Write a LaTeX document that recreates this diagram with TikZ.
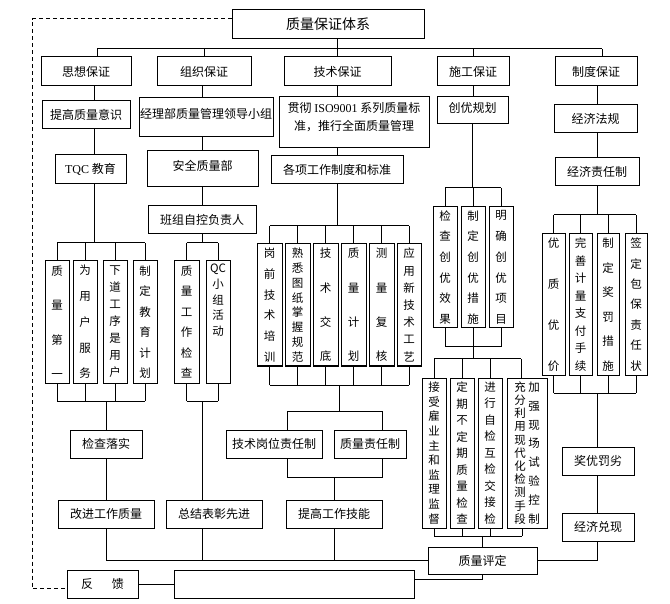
\documentclass[tikz,border=0pt]{standalone}
\usepackage{fontspec}
\setmainfont{Noto Sans CJK SC}
\newfontfamily\latinrm{Liberation Serif}
\usetikzlibrary{calc}
\newcommand{\latin}[1]{{\latinrm #1}}
\newcommand{\vstk}[2]{\begin{minipage}{12pt}\centering\fontsize{11.5}{#1}\selectfont #2\end{minipage}}
\newcommand{\liftup}[2]{\raisebox{#1}[\height][\depth]{#2}}
\tikzset{
  box/.style={draw=black, line width=1pt, inner sep=0pt,
              font=\fontsize{12}{14}\selectfont},
  sz/.style 2 args={minimum width=#1pt, minimum height=#2pt},
  link/.style={line width=1pt},
  fbline/.style={line width=1pt, dash pattern=on 4pt off 3pt}
}

\begin{document}
\begin{tikzpicture}[x=1pt,y=-1pt]
  \useasboundingbox (0,0) rectangle (670,604);
  % top level
  \node[box, sz={192}{29}, font=\fontsize{14}{16}\selectfont] (title) at (328,24.5) {质量保证体系};
  \node[box, sz={90}{29}] (sx) at (86,71.5) {思想保证};
  \node[box, sz={94}{29}] (zz) at (204,71.5) {组织保证};
  \node[box, sz={107}{29}] (js) at (337.5,71.5) {技术保证};
  \node[box, sz={72}{29}] (sg) at (473,71.5) {施工保证};
  \node[box, sz={82}{29}] (zd) at (596,71.5) {制度保证};
  % second level
  \node[box, sz={88}{28}] (tg) at (86,115) {提高质量意识};
  \node[box, sz={71}{29}] (tq) at (90.5,169.5) {\latin{TQC} 教育};
  \node[box, sz={134}{39}] (jl) at (206,117.5) {\liftup{3.5pt}{经理部质量管理领导小组}};
  \node[box, sz={111}{36}] (aq) at (202.5,169) {\liftup{3pt}{安全质量部}};
  \node[box, sz={108}{28}] (bz) at (202,220) {班组自控负责人};
  \node[box, sz={136}{51}] (iso) at (354,122.5) {\liftup{5.5pt}{\parbox{150pt}{\centering\fontsize{12}{18}\selectfont
    贯彻 \latin{ISO9001} 系列质量标\\准，推行全面质量管理}}};
  \node[box, sz={132}{28}] (gx) at (337,170) {各项工作制度和标准};
  \node[box, sz={71}{27}] (cy) at (472.5,110.5) {\liftup{2.5pt}{创优规划}};
  \node[box, sz={83}{28}] (jf) at (595.5,119) {经济法规};
  \node[box, sz={84}{28}] (jz) at (597,172) {经济责任制};
  % upright columns
  \node[box, sz={24}{122}] (a1) at (57,322) {\vstk{34.4}{质\\量\\第\\一}};
  \node[box, sz={24}{122}] (a2) at (85,322) {\vstk{25.8}{为\\用\\户\\服\\务}};
  \node[box, sz={24}{122}] (a3) at (115,322) {\vstk{17}{下\\道\\工\\序\\是\\用\\户}};
  \node[box, sz={24}{122}] (a4) at (145,322) {\vstk{20.5}{制\\定\\教\\育\\计\\划}};
  \node[box, sz={25}{122}] (b1) at (186.5,322) {\vstk{20.5}{质\\量\\工\\作\\检\\查}};
  \node[box, sz={24}{122}] (b2) at (218,322) {\liftup{21.6pt}{\begin{minipage}{16pt}\centering\fontsize{11.5}{15.7}\selectfont QC\\小\\组\\活\\动\end{minipage}}};
  \node[box, sz={25}{122}] (t1) at (269.5,305) {\vstk{20.7}{岗\\前\\技\\术\\培\\训}};
  \node[box, sz={25}{122}] (t2) at (297.5,305) {\vstk{14.8}{熟\\悉\\图\\纸\\掌\\握\\规\\范}};
  \node[box, sz={25}{122}] (t3) at (325.5,305) {\vstk{34.4}{技\\术\\交\\底}};
  \node[box, sz={25}{122}] (t4) at (353.5,305) {\vstk{34.4}{质\\量\\计\\划}};
  \node[box, sz={25}{122}] (t5) at (381.5,305) {\vstk{34.4}{测\\量\\复\\核}};
  \node[box, sz={24}{122}] (t6) at (409,305) {\vstk{17.2}{应\\用\\新\\技\\术\\工\\艺}};
  \node[box, sz={24}{121}] (c1) at (445,267.5) {\vstk{20.7}{检\\查\\创\\优\\效\\果}};
  \node[box, sz={24}{121}] (c2) at (473,267.5) {\vstk{20.7}{制\\定\\创\\优\\措\\施}};
  \node[box, sz={24}{121}] (c3) at (501,267.5) {\vstk{20.7}{明\\确\\创\\优\\项\\目}};
  \node[box, sz={24}{150}] (d1) at (434,453) {\vstk{14.6}{接\\受\\雇\\业\\主\\和\\监\\理\\监\\督}};
  \node[box, sz={24}{150}] (d2) at (462,453) {\vstk{16.5}{定\\期\\不\\定\\期\\质\\量\\检\\查}};
  \node[box, sz={24}{150}] (d3) at (490,453) {\vstk{16.5}{进\\行\\自\\检\\互\\检\\交\\接\\检}};
  \node[box, sz={40}{150}] (d4) at (527,453) {\vstk{13.2}{充\\分\\利\\用\\现\\代\\化\\检\\测\\手\\段}\hspace{2pt}\vstk{18.8}{加\\强\\现\\场\\试\\验\\控\\制}};
  \node[box, sz={23}{141}] (e1) at (553.5,304.5) {\vstk{41}{优\\质\\优\\价}};
  \node[box, sz={23}{141}] (e2) at (580.5,304.5) {\vstk{17.5}{完\\善\\计\\量\\支\\付\\手\\续}};
  \node[box, sz={22}{141}] (e3) at (608,304.5) {\vstk{24.5}{制\\定\\奖\\罚\\措\\施}};
  \node[box, sz={22}{141}] (e4) at (636,304.5) {\vstk{20.4}{签\\定\\包\\保\\责\\任\\状}};
  % lower boxes
  \node[box, sz={72}{28}] (jc) at (106,444) {检查落实};
  \node[box, sz={96}{28}] (jg) at (274,444) {技术岗位责任制};
  \node[box, sz={72}{28}] (zr) at (370,444) {质量责任制};
  \node[box, sz={96}{28}] (gj) at (106,514) {改进工作质量};
  \node[box, sz={96}{28}] (zj) at (214,514) {总结表彰先进};
  \node[box, sz={96}{28}] (tj) at (334,514) {提高工作技能};
  \node[box, sz={72}{28}] (jy) at (598,461) {奖优罚劣};
  \node[box, sz={72}{28}] (jd) at (598,527) {经济兑现};
  \node[box, sz={109}{27}] (pd) at (482.5,560.5) {质量评定};
  \node[box, sz={71}{28}] (fk) at (102.5,584) {反\hspace{19pt}馈};
  \node[box, sz={240}{28}] (bb) at (294,584) {};

  % bus lines and columns
  \coordinate (topL) at (97,49);   \coordinate (topR) at (602,49);
  \coordinate (k1) at (94,0);  \coordinate (k2) at (202,0);
  \coordinate (k3) at (339,0); \coordinate (k4) at (287,0);
  \coordinate (k5) at (382,0); \coordinate (k6) at (597,0);
  \coordinate (bus1) at (0,243);  \coordinate (bus2) at (0,401);
  \coordinate (bus3) at (0,226);  \coordinate (bus4) at (0,385);
  \coordinate (bus5) at (0,411);  \coordinate (bus6) at (0,477);
  \coordinate (bus7) at (0,188);  \coordinate (bus8) at (0,347);
  \coordinate (bus9) at (0,359);  \coordinate (bus10) at (0,536);
  \coordinate (bus11) at (0,215); \coordinate (bus12) at (0,393);
  \coordinate (d4top) at ([xshift=-6pt]d4.north);
  \coordinate (d4bot) at ([xshift=-5pt]d4.south);
  \coordinate (fbc) at (32,588);

  \draw[link] (js.north) -- (js.north |- title.south);
  \draw[link] (topL) -- (topR);
  \draw[link] (topL) -- (topL |- sx.north);
  \draw[link] (zz.north) -- (zz.north |- topL);
  \draw[link] (sg.north) -- (sg.north |- topL);
  \draw[link] (topR) -- (topR |- zd.north);
  % 思想保证
  \draw[link] (sx.south -| k1) -- (tg.north -| k1);
  \draw[link] (tg.south -| k1) -- (tq.north -| k1);
  \draw[link] (tq.south -| k1) -- (k1 |- bus1);
  \draw[link] (a1.north |- bus1) -- (a4.north |- bus1);
  \draw[link] (a1.south |- bus2) -- (a4.south |- bus2);
  \foreach \n in {a1,a2,a3,a4} {
    \draw[link] (\n.north) -- (\n.north |- bus1);
    \draw[link] (\n.south) -- (\n.south |- bus2);
  }
  \draw[link] (jc.north) -- (jc.north |- bus2);
  \draw[link] (jc.south) -- (gj.north);
  \draw[link] (gj.south) |- (pd.west);
  % 组织保证
  \draw[link] (zz.south -| k2) -- (jl.north -| k2);
  \draw[link] (jl.south -| k2) -- (aq.north -| k2);
  \draw[link] (aq.south -| k2) -- (bz.north -| k2);
  \draw[link] (bz.south -| k2) -- (k2 |- bus1);
  \draw[link] (b1.north |- bus1) -- (b2.north |- bus1);
  \draw[link] (b1.south |- bus2) -- (b2.south |- bus2);
  \foreach \n in {b1,b2} {
    \draw[link] (\n.north) -- (\n.north |- bus1);
    \draw[link] (\n.south) -- (\n.south |- bus2);
  }
  \draw[link] (k2 |- bus2) -- (k2 |- zj.north);
  \draw[link] (zj.south -| k2) -- (k2 |- pd.west);
  % 技术保证
  \draw[link] (js.south) -- (js.south |- iso.north);
  \draw[link] (gx.north) -- (gx.north |- iso.south);
  \draw[link] (gx.south) -- (gx.south |- bus3);
  \draw[link] (t1.north |- bus3) -- (t6.north |- bus3);
  \draw[link] (t1.south |- bus4) -- (t6.south |- bus4);
  \foreach \n in {t1,t2,t3,t4,t5,t6} {
    \draw[link] (\n.north) -- (\n.north |- bus3);
    \draw[link] (\n.south) -- (\n.south |- bus4);
  }
  \draw[link] (k3 |- bus4) -- (k3 |- bus5);
  \draw[link] (jg.north -| k4) |- (k5 |- bus5) -- (zr.north -| k5);
  \draw[link] (jg.south -| k4) |- (k5 |- bus6) -- (zr.south -| k5);
  \draw[link] (tj.north) -- (tj.north |- bus6);
  \draw[link] (tj.south) -- (tj.south |- pd.west);
  % 施工保证
  \draw[link] (sg.south) -- (sg.south |- cy.north);
  \draw[link] (cy.south) -- (cy.south |- bus7);
  \draw[link] (c1.north |- bus7) -- (c3.north |- bus7);
  \draw[link] (c1.south |- bus8) -- (c3.south |- bus8);
  \foreach \n in {c1,c2,c3} {
    \draw[link] (\n.north) -- (\n.north |- bus7);
    \draw[link] (\n.south) -- (\n.south |- bus8);
  }
  \draw[link] (c2.south |- bus8) -- (c2.south |- bus9);
  \draw[link] (d1.north |- bus9) -- (d4top |- bus9);
  \draw[link] (d1.south |- bus10) -- (d4bot |- bus10);
  \foreach \n in {d1,d2,d3} {
    \draw[link] (\n.north) -- (\n.north |- bus9);
    \draw[link] (\n.south) -- (\n.south |- bus10);
  }
  \draw[link] (d4top) -- (d4top |- bus9);
  \draw[link] (d4bot) -- (d4bot |- bus10);
  \draw[link] (pd.north) -- (pd.north |- bus10);
  % 制度保证
  \draw[link] (zd.south -| k6) -- (jf.north -| k6);
  \draw[link] (jf.south -| k6) -- (jz.north -| k6);
  \draw[link] (jz.south -| k6) -- (k6 |- bus11);
  \draw[link] (e1.north |- bus11) -- (e4.north |- bus11);
  \draw[link] (e1.south |- bus12) -- (e4.south |- bus12);
  \foreach \n in {e1,e2,e3,e4} {
    \draw[link] (\n.north) -- (\n.north |- bus11);
    \draw[link] (\n.south) -- (\n.south |- bus12);
  }
  \draw[link] (k6 |- bus12) -- (jy.north -| k6);
  \draw[link] (jy.south -| k6) -- (jd.north -| k6);
  \draw[link] (jd.south -| k6) |- (pd.east);
  % feedback
  \draw[link] (fk.east) -- (fk.east -| bb.west);
  \draw[link] (pd.south) |- ([yshift=5pt]bb.east);
  \draw[fbline] ([yshift=5.5pt]title.west) -| (fbc) -- (fbc -| fk.west);
\end{tikzpicture}
\end{document}
